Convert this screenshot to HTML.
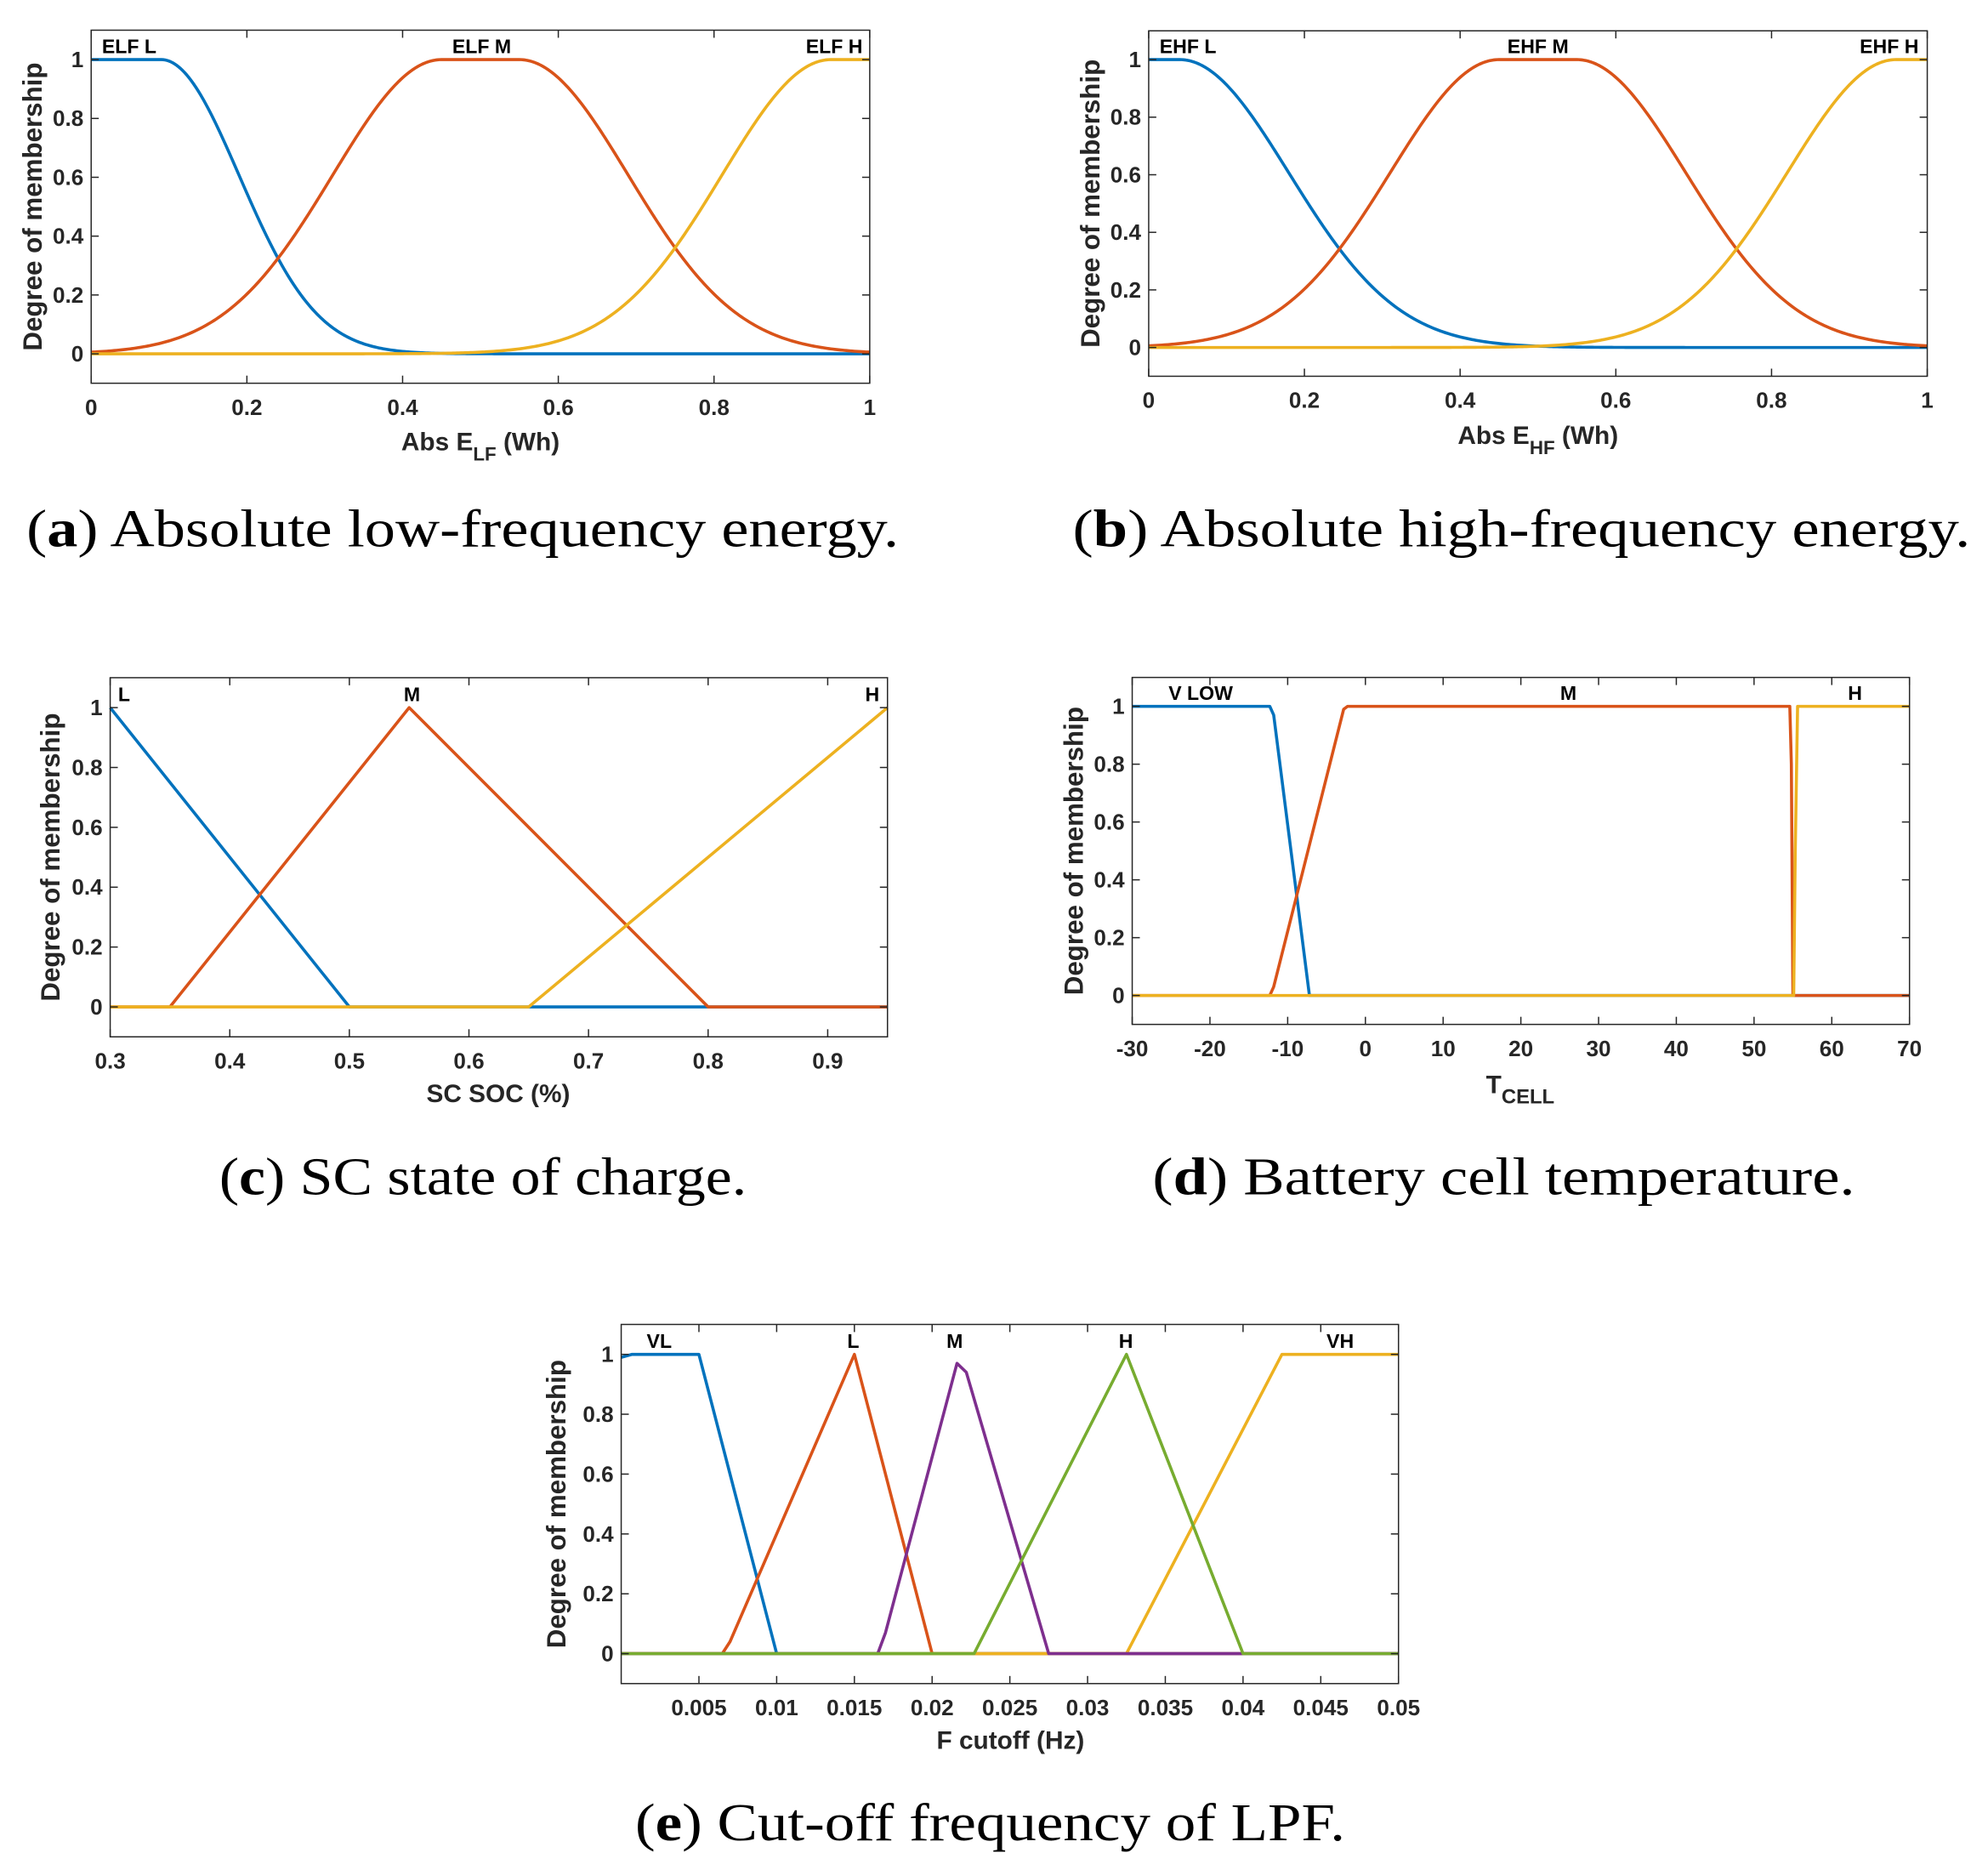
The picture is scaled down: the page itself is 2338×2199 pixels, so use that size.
<!DOCTYPE html>
<html><head><meta charset="utf-8">
<style>
html,body{margin:0;padding:0;background:#fff;}
svg{display:block;}
.t{font-family:"Liberation Sans",sans-serif;font-weight:bold;font-size:17.5px;fill:#262626;}
.xl{font-family:"Liberation Sans",sans-serif;font-weight:bold;font-size:20px;fill:#262626;}
.yl{font-family:"Liberation Sans",sans-serif;font-weight:bold;font-size:21px;fill:#262626;}
.lb{font-family:"Liberation Sans",sans-serif;font-weight:bold;font-size:15.5px;fill:#000;}
.cap{font-family:"Liberation Serif",serif;font-size:42px;fill:#000;}
</style></head>
<body>
<svg id="s" width="2338" height="2199" viewBox="-0.9 0 1567.8 1474.6" preserveAspectRatio="none" xmlns="http://www.w3.org/2000/svg">
<text class="cap" x="20" y="431" textLength="688" lengthAdjust="spacingAndGlyphs">(<tspan font-weight="bold">a</tspan>) Absolute low-frequency energy.</text>
<text class="cap" x="845" y="431" textLength="708" lengthAdjust="spacingAndGlyphs">(<tspan font-weight="bold">b</tspan>) Absolute high-frequency energy.</text>
<text class="cap" x="172" y="942" textLength="416" lengthAdjust="spacingAndGlyphs">(<tspan font-weight="bold">c</tspan>) SC state of charge.</text>
<text class="cap" x="908" y="942" textLength="554" lengthAdjust="spacingAndGlyphs">(<tspan font-weight="bold">d</tspan>) Battery cell temperature.</text>
<text class="cap" x="500" y="1451" textLength="560" lengthAdjust="spacingAndGlyphs">(<tspan font-weight="bold">e</tspan>) Cut-off frequency of LPF.</text>
</svg>
<script>
const S=document.getElementById('s');const NS='http://www.w3.org/2000/svg';
function el(t,a,txt){const e=document.createElementNS(NS,t);for(const k in a)e.setAttribute(k,a[k]);if(txt!==undefined)e.innerHTML=txt;S.appendChild(e);return e;}
const C={b:'#0072BD',o:'#D95319',y:'#EDB120',p:'#7E2F8E',g:'#77AC30'};
function plot(o){
 const {x0,x1,y1p,y0p,xmin,xmax}=o;
 const py=v=>y0p-(y0p-y1p)*v;
 const px=v=>x0+(x1-x0)*(v-xmin)/(xmax-xmin);
 const top=py(1.1),bot=py(-0.1);
 for(const c of o.curves){
  let pts=[];
  if(c.f){for(let i=0;i<=400;i++){const x=xmin+(xmax-xmin)*i/400;pts.push([px(x),py(c.f(x))]);}}
  else pts=c.pts.map(p=>[px(p[0]),py(p[1])]);
  el('polyline',{points:pts.map(p=>p[0].toFixed(2)+','+p[1].toFixed(2)).join(' '),fill:'none',stroke:C[c.c],'stroke-width':2.4,'stroke-linejoin':'round'});
 }
 el('rect',{x:x0,y:top,width:x1-x0,height:bot-top,fill:'none',stroke:'#262626','stroke-width':1});
 for(let i=0;i<=5;i++){const v=i*0.2,y=py(v);
  el('line',{x1:x0,y1:y,x2:x0+6,y2:y,stroke:'#262626','stroke-width':1});
  el('line',{x1:x1,y1:y,x2:x1-6,y2:y,stroke:'#262626','stroke-width':1});
  const s=i==0?'0':i==5?'1':v.toFixed(1);
  el('text',{class:'t',x:x0-6,y:y+6,'text-anchor':'end'},s);}
 for(const [v,s] of o.xt){const x=px(v);
  el('line',{x1:x,y1:bot,x2:x,y2:bot-6,stroke:'#262626','stroke-width':1});
  el('line',{x1:x,y1:top,x2:x,y2:top+6,stroke:'#262626','stroke-width':1});
  if(s!==null)el('text',{class:'t',x:x,y:bot+25,'text-anchor':'middle'},s);}
 el('text',{class:'yl',transform:`translate(${o.ylx},${(top+bot)/2}) rotate(-90)`,'text-anchor':'middle'},'Degree of membership');
 el('text',{class:'xl',x:o.xlx,y:o.xly,'text-anchor':'middle'},o.xl);
 for(const [x,s] of o.labels)el('text',{class:'lb',x:x,y:py(1)-5,'text-anchor':'middle'},s);
}
const g=(x,c,s)=>Math.exp(-(x-c)*(x-c)/(2*s*s));
const rng=(a,b,st)=>{const r=[];for(let v=a;v<=b+1e-9;v+=st)r.push([v,+v.toFixed(4)+'']);return r;};
plot({x0:71,x1:685,y1p:47,y0p:279,xmin:0,xmax:1,xt:rng(0,1,0.2).map(a=>[a[0],a[0]==0?'0':a[0]>0.99?'1':a[0].toFixed(1)]),
 curves:[{c:'b',f:x=>x<0.09?1:g(x,0.09,0.1)},{c:'o',f:x=>x<0.45?g(x,0.45,0.14):x<0.55?1:g(x,0.55,0.14)},{c:'y',f:x=>x>0.95?1:g(x,0.95,0.14)}],
 ylx:32,xl:'Abs E<tspan dy="8" font-size="15">LF</tspan><tspan dy="-8"> (Wh)</tspan>',xlx:378,xly:355,
 labels:[[101,'ELF L'],[379,'ELF M'],[657,'ELF H']]});
plot({x0:905,x1:1519,y1p:47,y0p:274,xmin:0,xmax:1,xt:rng(0,1,0.2).map(a=>[a[0],a[0]==0?'0':a[0]>0.99?'1':a[0].toFixed(1)]),
 curves:[{c:'b',f:x=>x<0.04?1:g(x,0.04,0.14)},{c:'o',f:x=>x<0.45?g(x,0.45,0.14):x<0.55?1:g(x,0.55,0.14)},{c:'y',f:x=>x>0.96?1:g(x,0.96,0.14)}],
 ylx:866,xl:'Abs E<tspan dy="8" font-size="15">HF</tspan><tspan dy="-8"> (Wh)</tspan>',xlx:1212,xly:350,
 labels:[[936,'EHF L'],[1212,'EHF M'],[1489,'EHF H']]});
plot({x0:86,x1:699,y1p:558,y0p:794,xmin:0.3,xmax:0.95,xt:[0.3,0.4,0.5,0.6,0.7,0.8,0.9].map(v=>[v,v.toFixed(1)]),
 curves:[{c:'b',pts:[[0.3,1],[0.5,0],[0.95,0]]},{c:'o',pts:[[0.3,0],[0.35,0],[0.55,1],[0.8,0],[0.95,0]]},{c:'y',pts:[[0.3,0],[0.65,0],[0.95,1]]}],
 ylx:46,xl:'SC SOC (%)',xlx:392,xly:869,labels:[[97,'L'],[324,'M'],[687,'H']]});
plot({x0:892,x1:1505,y1p:557,y0p:785,xmin:-30,xmax:70,xt:[-30,-20,-10,0,10,20,30,40,50,60,70].map(v=>[v,''+v]),
 curves:[{c:'b',pts:[[-30,1],[-12.3,1],[-11.8,0.97],[-7.2,0],[70,0]]},{c:'o',pts:[[-30,0],[-12.3,0],[-11.8,0.03],[-2.8,0.99],[-2.3,1],[54.6,1],[54.8,0.8],[55,0],[70,0]]},{c:'y',pts:[[-30,0],[55.1,0],[55.3,0.5],[55.6,1],[70,1]]}],
 ylx:853,xl:'T<tspan dy="8" font-size="16">CELL</tspan>',xlx:1198,xly:862,labels:[[946,'V LOW'],[1236,'M'],[1462,'H']]});
plot({x0:489,x1:1102,y1p:1068,y0p:1304,xmin:0,xmax:0.05,xt:[0.005,0.01,0.015,0.02,0.025,0.03,0.035,0.04,0.045,0.05].map(v=>[v,''+v]),
 curves:[{c:'b',pts:[[0,0.99],[0.0007,1],[0.005,1],[0.01,0],[0.05,0]]},{c:'o',pts:[[0,0],[0.0065,0],[0.007,0.04],[0.015,1],[0.02,0],[0.05,0]]},
 {c:'y',pts:[[0,0],[0.0325,0],[0.0425,1],[0.05,1]]},{c:'p',pts:[[0,0],[0.0165,0],[0.017,0.07],[0.0216,0.97],[0.0222,0.94],[0.0275,0],[0.05,0]]},
 {c:'g',pts:[[0,0],[0.0227,0],[0.0325,1],[0.04,0],[0.05,0]]}],
 ylx:445,xl:'F cutoff (Hz)',xlx:796,xly:1379,labels:[[519,'VL'],[672,'L'],[752,'M'],[887,'H'],[1056,'VH']]});
</script>
</body></html>
